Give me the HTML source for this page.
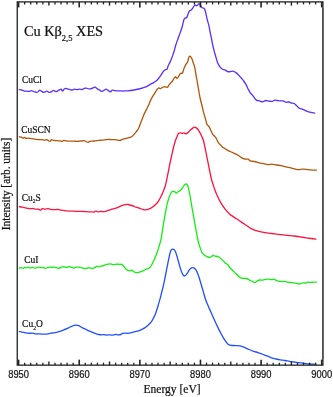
<!DOCTYPE html>
<html><head><meta charset="utf-8"><title>Cu Kβ XES</title>
<style>html,body{margin:0;padding:0;background:#fff}svg{display:block}</style>
</head><body>
<svg width="333" height="397" viewBox="0 0 333 397">
<rect width="333" height="397" fill="#fff"/>
<path d="M19.30 89.60C19.65 89.65 20.63 89.68 21.40 89.90C22.17 90.12 23.07 90.68 23.90 90.90C24.73 91.12 25.57 91.12 26.40 91.20C27.23 91.28 28.07 91.48 28.90 91.40C29.73 91.32 30.55 90.67 31.40 90.70C32.25 90.73 33.15 91.32 34.00 91.60C34.85 91.88 35.80 92.38 36.50 92.40C37.20 92.42 37.65 92.08 38.20 91.70C38.75 91.32 39.25 90.18 39.80 90.10C40.35 90.02 40.80 90.82 41.50 91.20C42.20 91.58 43.15 92.40 44.00 92.40C44.85 92.40 45.75 91.20 46.60 91.20C47.45 91.20 48.27 92.33 49.10 92.40C49.93 92.47 50.85 91.93 51.60 91.60C52.35 91.27 52.90 90.38 53.60 90.40C54.30 90.42 55.07 91.65 55.80 91.70C56.53 91.75 57.30 91.05 58.00 90.70C58.70 90.35 59.43 89.85 60.00 89.60C60.57 89.35 60.98 88.93 61.40 89.20C61.82 89.47 62.03 91.22 62.50 91.20C62.97 91.18 63.63 89.57 64.20 89.10C64.77 88.63 65.20 88.38 65.90 88.40C66.60 88.42 67.57 88.95 68.40 89.20C69.23 89.45 70.22 89.78 70.90 89.90C71.58 90.02 71.90 90.02 72.50 89.90C73.10 89.78 73.75 89.23 74.50 89.20C75.25 89.17 76.15 89.72 77.00 89.70C77.85 89.68 78.75 89.12 79.60 89.10C80.45 89.08 81.35 89.72 82.10 89.60C82.85 89.48 83.40 88.65 84.10 88.40C84.80 88.15 85.52 88.02 86.30 88.10C87.08 88.18 87.97 88.80 88.80 88.90C89.63 89.00 90.52 88.92 91.30 88.70C92.08 88.48 92.85 87.85 93.50 87.60C94.15 87.35 94.58 87.02 95.20 87.20C95.82 87.38 96.45 88.22 97.20 88.70C97.95 89.18 98.92 89.65 99.70 90.10C100.48 90.55 101.20 91.35 101.90 91.40C102.60 91.45 103.20 90.77 103.90 90.40C104.60 90.03 105.40 89.20 106.10 89.20C106.80 89.20 107.40 89.97 108.10 90.40C108.80 90.83 109.60 91.85 110.30 91.80C111.00 91.75 111.53 90.30 112.30 90.10C113.07 89.90 114.05 90.47 114.90 90.60C115.75 90.73 116.57 90.87 117.40 90.90C118.23 90.93 119.07 90.77 119.90 90.80C120.73 90.83 121.57 91.10 122.40 91.10C123.23 91.10 123.97 90.83 124.90 90.80C125.83 90.77 126.48 91.03 128.00 90.90C129.52 90.77 132.00 90.36 134.00 90.00C136.00 89.64 138.17 89.22 140.00 88.75C141.83 88.28 143.33 87.89 145.00 87.20C146.67 86.51 148.72 85.27 150.00 84.60C151.28 83.93 151.80 83.70 152.70 83.20C153.60 82.70 154.50 82.30 155.40 81.60C156.30 80.90 157.20 80.03 158.10 79.00C159.00 77.97 159.98 76.60 160.80 75.40C161.62 74.20 162.33 72.70 163.00 71.80C163.67 70.90 164.12 70.47 164.80 70.00C165.48 69.53 166.57 69.63 167.10 69.00C167.63 68.37 167.55 67.27 168.00 66.20C168.45 65.13 169.20 63.88 169.80 62.60C170.40 61.32 171.05 59.87 171.60 58.50C172.15 57.13 172.65 55.73 173.10 54.40C173.55 53.07 173.85 52.07 174.30 50.50C174.75 48.93 175.18 46.97 175.80 45.00C176.42 43.03 177.25 40.80 178.00 38.70C178.75 36.60 179.62 34.35 180.30 32.40C180.98 30.45 181.50 29.10 182.10 27.00C182.70 24.90 183.38 21.30 183.90 19.80C184.42 18.30 184.75 18.35 185.20 18.00C185.65 17.65 186.12 18.35 186.60 17.70C187.08 17.05 187.65 15.18 188.10 14.10C188.55 13.02 188.80 11.90 189.30 11.20C189.80 10.50 190.58 10.33 191.10 9.90C191.62 9.47 191.95 9.20 192.40 8.60C192.85 8.00 193.32 6.90 193.80 6.30C194.28 5.70 194.85 5.07 195.30 5.00C195.75 4.93 196.08 5.90 196.50 5.90C196.92 5.90 197.35 5.38 197.80 5.00C198.25 4.62 198.75 3.53 199.20 3.60C199.65 3.67 200.05 4.73 200.50 5.40C200.95 6.07 201.45 7.15 201.90 7.60C202.35 8.05 202.75 7.87 203.20 8.10C203.65 8.33 204.15 8.10 204.60 9.00C205.05 9.90 205.45 11.70 205.90 13.50C206.35 15.30 206.82 17.85 207.30 19.80C207.78 21.75 208.35 23.25 208.80 25.20C209.25 27.15 209.55 29.25 210.00 31.50C210.45 33.75 211.05 36.45 211.50 38.70C211.95 40.95 212.28 43.05 212.70 45.00C213.12 46.95 213.48 48.45 214.00 50.40C214.52 52.35 215.20 54.65 215.80 56.70C216.40 58.75 216.93 61.05 217.60 62.70C218.27 64.35 219.05 65.55 219.80 66.60C220.55 67.65 221.27 68.45 222.10 69.00C222.93 69.55 223.90 69.48 224.80 69.90C225.70 70.32 226.60 71.20 227.50 71.50C228.40 71.80 229.30 71.77 230.20 71.70C231.10 71.63 232.00 70.98 232.90 71.10C233.80 71.22 234.70 71.80 235.60 72.40C236.50 73.00 237.40 73.80 238.30 74.70C239.20 75.60 240.10 76.75 241.00 77.80C241.90 78.85 242.85 79.87 243.70 81.00C244.55 82.13 245.35 83.25 246.10 84.60C246.85 85.95 247.52 87.77 248.20 89.10C248.88 90.43 249.55 91.65 250.20 92.60C250.85 93.55 251.43 93.97 252.10 94.80C252.77 95.63 253.50 96.72 254.20 97.60C254.90 98.48 255.42 99.55 256.30 100.10C257.18 100.65 258.45 100.62 259.50 100.90C260.55 101.18 261.55 101.87 262.60 101.80C263.65 101.73 264.75 100.62 265.80 100.50C266.85 100.38 267.85 100.95 268.90 101.10C269.95 101.25 271.12 101.57 272.10 101.40C273.08 101.23 273.93 100.25 274.80 100.10C275.67 99.95 276.35 100.37 277.30 100.50C278.25 100.63 279.52 100.83 280.50 100.90C281.48 100.97 282.33 100.68 283.20 100.90C284.07 101.12 284.75 102.02 285.70 102.20C286.65 102.38 288.02 101.87 288.90 102.00C289.78 102.13 290.13 102.75 291.00 103.00C291.87 103.25 293.15 103.03 294.10 103.50C295.05 103.97 295.82 105.00 296.70 105.80C297.58 106.60 298.42 107.72 299.40 108.30C300.38 108.88 301.65 108.95 302.60 109.30C303.55 109.65 304.23 110.00 305.10 110.40C305.97 110.80 306.82 111.38 307.80 111.70C308.78 112.02 309.85 112.07 311.00 112.30C312.15 112.53 314.08 112.97 314.70 113.10" fill="none" stroke="#5c30fa" stroke-width="1.32" stroke-linejoin="round" stroke-linecap="round"/>
<path d="M19.30 136.70C19.65 136.78 20.78 136.97 21.40 137.20C22.02 137.43 22.50 138.07 23.00 138.10C23.50 138.13 23.88 137.35 24.40 137.40C24.92 137.45 25.48 138.28 26.10 138.40C26.72 138.52 27.22 138.05 28.10 138.10C28.98 138.15 30.28 138.53 31.40 138.70C32.52 138.87 33.67 138.95 34.80 139.10C35.93 139.25 37.08 139.50 38.20 139.60C39.32 139.70 40.38 139.62 41.50 139.70C42.62 139.78 44.00 140.10 44.90 140.10C45.80 140.10 46.28 139.58 46.90 139.70C47.52 139.82 48.03 140.57 48.60 140.80C49.17 141.03 49.80 141.28 50.30 141.10C50.80 140.92 51.05 139.82 51.60 139.70C52.15 139.58 52.75 140.25 53.60 140.40C54.45 140.55 55.63 140.52 56.70 140.60C57.77 140.68 59.12 140.77 60.00 140.90C60.88 141.03 61.38 141.48 62.00 141.40C62.62 141.32 63.05 140.50 63.70 140.40C64.35 140.30 65.12 140.68 65.90 140.80C66.68 140.92 67.42 141.05 68.40 141.10C69.38 141.15 70.78 141.10 71.80 141.10C72.82 141.10 73.63 141.05 74.50 141.10C75.37 141.15 76.15 141.40 77.00 141.40C77.85 141.40 78.75 141.18 79.60 141.10C80.45 141.02 81.35 140.98 82.10 140.90C82.85 140.82 83.48 140.52 84.10 140.60C84.72 140.68 85.15 141.12 85.80 141.40C86.45 141.68 87.37 142.30 88.00 142.30C88.63 142.30 88.90 141.60 89.60 141.40C90.30 141.20 91.22 141.20 92.20 141.10C93.18 141.00 94.38 140.92 95.50 140.80C96.62 140.68 97.77 140.52 98.90 140.40C100.03 140.28 101.18 140.22 102.30 140.10C103.42 139.98 104.63 139.82 105.60 139.70C106.57 139.58 107.12 139.42 108.10 139.40C109.08 139.38 110.37 139.55 111.50 139.60C112.63 139.65 113.92 139.62 114.90 139.70C115.88 139.78 116.57 139.98 117.40 140.10C118.23 140.22 119.07 140.52 119.90 140.40C120.73 140.28 121.57 139.68 122.40 139.40C123.23 139.12 123.97 138.97 124.90 138.70C125.83 138.43 127.17 138.02 128.00 137.80C128.83 137.58 129.25 137.62 129.90 137.40C130.55 137.18 131.17 137.05 131.90 136.50C132.63 135.95 133.50 135.00 134.30 134.10C135.10 133.20 136.02 132.00 136.70 131.10C137.38 130.20 137.92 129.60 138.40 128.70C138.88 127.80 139.20 126.72 139.60 125.70C140.00 124.68 140.40 123.62 140.80 122.60C141.20 121.58 141.60 120.60 142.00 119.60C142.40 118.60 142.80 117.60 143.20 116.60C143.60 115.60 143.95 114.60 144.40 113.60C144.85 112.60 145.38 111.62 145.90 110.60C146.42 109.58 147.00 108.52 147.50 107.50C148.00 106.48 148.47 105.50 148.90 104.50C149.33 103.50 149.73 102.40 150.10 101.50C150.47 100.60 150.67 99.95 151.10 99.10C151.53 98.25 152.12 97.35 152.70 96.40C153.28 95.45 153.98 94.38 154.60 93.40C155.22 92.42 155.88 91.30 156.40 90.50C156.92 89.70 157.27 89.05 157.70 88.60C158.13 88.15 158.53 87.80 159.00 87.80C159.47 87.80 159.95 88.65 160.50 88.60C161.05 88.55 161.65 87.83 162.30 87.50C162.95 87.17 163.75 86.67 164.40 86.60C165.05 86.53 165.68 86.98 166.20 87.10C166.72 87.22 167.05 87.63 167.50 87.30C167.95 86.97 168.37 85.82 168.90 85.10C169.43 84.38 170.10 83.68 170.70 83.00C171.30 82.32 171.90 81.85 172.50 81.00C173.10 80.15 173.75 78.57 174.30 77.90C174.85 77.23 175.35 76.90 175.80 77.00C176.25 77.10 176.55 78.55 177.00 78.50C177.45 78.45 178.05 77.40 178.50 76.70C178.95 76.00 179.28 74.90 179.70 74.30C180.12 73.70 180.55 73.30 181.00 73.10C181.45 72.90 181.87 73.95 182.40 73.10C182.93 72.25 183.60 69.50 184.20 68.00C184.80 66.50 185.45 65.05 186.00 64.10C186.55 63.15 187.10 63.15 187.50 62.30C187.90 61.45 188.10 60.00 188.40 59.00C188.70 58.00 188.95 56.72 189.30 56.30C189.65 55.88 190.08 56.12 190.50 56.50C190.92 56.88 191.35 57.58 191.80 58.60C192.25 59.62 192.72 61.18 193.20 62.60C193.68 64.02 194.25 65.15 194.70 67.10C195.15 69.05 195.48 71.90 195.90 74.30C196.32 76.70 196.75 78.95 197.20 81.50C197.65 84.05 198.12 86.85 198.60 89.60C199.08 92.35 199.50 95.18 200.10 98.00C200.70 100.82 201.57 103.90 202.20 106.50C202.83 109.10 203.28 111.28 203.90 113.60C204.52 115.92 205.40 118.63 205.90 120.40C206.40 122.17 206.33 123.07 206.90 124.20C207.47 125.33 208.60 126.07 209.30 127.20C210.00 128.33 210.53 129.80 211.10 131.00C211.67 132.20 212.13 133.57 212.70 134.40C213.27 135.23 213.88 135.32 214.50 136.00C215.12 136.68 215.83 137.50 216.40 138.50C216.97 139.50 217.27 140.98 217.90 142.00C218.53 143.02 219.32 143.67 220.20 144.60C221.08 145.53 221.93 146.63 223.20 147.60C224.47 148.57 226.23 149.57 227.80 150.40C229.37 151.23 231.05 151.90 232.60 152.60C234.15 153.30 235.57 153.73 237.10 154.60C238.63 155.47 240.48 157.07 241.80 157.80C243.12 158.53 243.95 158.77 245.00 159.00C246.05 159.23 247.22 158.88 248.10 159.20C248.98 159.52 249.25 160.52 250.30 160.90C251.35 161.28 252.92 161.18 254.40 161.50C255.88 161.82 257.62 162.43 259.20 162.80C260.78 163.17 262.33 163.38 263.90 163.70C265.47 164.02 267.28 164.63 268.60 164.70C269.92 164.77 270.48 164.05 271.80 164.10C273.12 164.15 274.93 164.75 276.50 165.00C278.07 165.25 279.62 165.28 281.20 165.60C282.78 165.92 284.42 166.53 286.00 166.90C287.58 167.27 289.13 167.43 290.70 167.80C292.27 168.17 294.08 168.78 295.40 169.10C296.72 169.42 297.28 169.70 298.60 169.70C299.92 169.70 301.73 169.10 303.30 169.10C304.87 169.10 306.42 169.53 308.00 169.70C309.58 169.87 311.38 170.03 312.80 170.10C314.22 170.17 315.88 170.10 316.50 170.10" fill="none" stroke="#b2560c" stroke-width="1.32" stroke-linejoin="round" stroke-linecap="round"/>
<path d="M19.30 206.70C19.78 206.78 21.15 207.00 22.20 207.20C23.25 207.40 24.62 207.70 25.60 207.90C26.58 208.10 27.27 208.27 28.10 208.40C28.93 208.53 29.77 208.70 30.60 208.70C31.43 208.70 32.27 208.33 33.10 208.40C33.93 208.47 34.75 208.97 35.60 209.10C36.45 209.23 37.35 209.03 38.20 209.20C39.05 209.37 40.00 210.18 40.70 210.10C41.40 210.02 41.70 208.87 42.40 208.70C43.10 208.53 43.92 209.10 44.90 209.10C45.88 209.10 47.32 208.65 48.30 208.70C49.28 208.75 49.97 209.23 50.80 209.40C51.63 209.57 52.47 209.67 53.30 209.70C54.13 209.73 54.97 209.65 55.80 209.60C56.63 209.55 57.45 209.32 58.30 209.40C59.15 209.48 60.05 209.93 60.90 210.10C61.75 210.27 62.43 210.27 63.40 210.40C64.37 210.53 65.58 210.78 66.70 210.90C67.82 211.02 69.22 211.07 70.10 211.10C70.98 211.13 71.12 211.07 72.00 211.10C72.88 211.13 74.28 211.25 75.40 211.30C76.52 211.35 77.58 211.38 78.70 211.40C79.82 211.42 80.98 211.37 82.10 211.40C83.22 211.43 84.28 211.53 85.40 211.60C86.52 211.67 87.67 211.77 88.80 211.80C89.93 211.83 91.37 211.75 92.20 211.80C93.03 211.85 93.25 212.22 93.80 212.10C94.35 211.98 94.78 211.15 95.50 211.10C96.22 211.05 97.25 211.75 98.10 211.80C98.95 211.85 99.77 211.43 100.60 211.40C101.43 211.37 102.27 211.62 103.10 211.60C103.93 211.58 104.77 211.50 105.60 211.30C106.43 211.10 107.25 210.68 108.10 210.40C108.95 210.12 109.72 209.88 110.70 209.60C111.68 209.32 112.88 209.03 114.00 208.70C115.12 208.37 116.42 207.98 117.40 207.60C118.38 207.22 119.07 206.77 119.90 206.40C120.73 206.03 121.57 205.68 122.40 205.40C123.23 205.12 123.97 204.85 124.90 204.70C125.83 204.55 126.73 204.32 128.00 204.50C129.27 204.68 131.17 205.30 132.50 205.75C133.83 206.20 134.75 206.76 136.00 207.20C137.25 207.64 138.83 208.02 140.00 208.40C141.17 208.78 142.17 209.25 143.00 209.50C143.83 209.75 144.07 209.95 145.00 209.90C145.93 209.85 147.38 209.63 148.60 209.20C149.82 208.77 151.08 208.12 152.30 207.30C153.52 206.48 154.90 205.30 155.90 204.30C156.90 203.30 157.52 202.47 158.30 201.30C159.08 200.13 159.80 198.90 160.60 197.30C161.40 195.70 162.35 193.53 163.11 191.70C163.88 189.87 164.59 188.25 165.19 186.30C165.78 184.35 166.18 182.33 166.68 180.00C167.18 177.67 167.65 175.10 168.20 172.30C168.75 169.50 169.40 166.07 170.00 163.20C170.60 160.33 171.20 157.80 171.80 155.10C172.40 152.40 173.00 149.40 173.60 147.00C174.20 144.60 174.80 142.50 175.40 140.70C176.00 138.90 176.67 137.43 177.20 136.20C177.73 134.97 178.07 133.85 178.60 133.30C179.13 132.75 179.80 132.90 180.40 132.90C181.00 132.90 181.60 133.30 182.20 133.30C182.80 133.30 183.40 132.82 184.00 132.90C184.60 132.98 185.20 133.80 185.80 133.80C186.40 133.80 187.00 133.35 187.60 132.90C188.20 132.45 188.80 131.70 189.40 131.10C190.00 130.50 190.60 129.83 191.20 129.30C191.80 128.77 192.45 128.27 193.00 127.90C193.55 127.53 193.95 127.10 194.50 127.10C195.05 127.10 195.70 127.47 196.30 127.90C196.90 128.33 197.50 128.92 198.10 129.70C198.70 130.48 199.30 131.52 199.90 132.60C200.50 133.68 201.10 134.85 201.70 136.20C202.30 137.55 202.97 138.90 203.50 140.70C204.03 142.50 204.40 144.60 204.90 147.00C205.40 149.40 205.98 152.55 206.50 155.10C207.02 157.65 207.48 159.73 208.00 162.30C208.52 164.87 209.03 167.72 209.60 170.50C210.17 173.28 210.82 176.67 211.40 179.00C211.98 181.33 212.48 182.58 213.10 184.50C213.72 186.42 214.42 188.67 215.10 190.50C215.78 192.33 216.33 193.60 217.20 195.50C218.07 197.40 218.98 199.62 220.30 201.90C221.62 204.18 223.57 207.20 225.10 209.20C226.63 211.20 228.01 212.58 229.48 213.90C230.95 215.22 232.36 216.05 233.90 217.10C235.44 218.15 237.12 219.15 238.70 220.20C240.28 221.25 241.83 222.35 243.40 223.40C244.97 224.45 246.78 225.62 248.10 226.50C249.42 227.38 249.98 228.02 251.30 228.70C252.62 229.38 254.17 230.02 256.00 230.60C257.83 231.18 260.20 231.77 262.30 232.20C264.40 232.63 266.50 232.93 268.60 233.20C270.70 233.47 272.80 233.55 274.90 233.80C277.00 234.05 279.10 234.43 281.20 234.70C283.30 234.97 285.40 235.18 287.50 235.40C289.60 235.62 291.70 235.75 293.80 236.00C295.90 236.25 297.98 236.58 300.10 236.90C302.22 237.22 304.65 237.63 306.50 237.90C308.35 238.17 309.63 238.28 311.20 238.50C312.77 238.72 315.12 239.08 315.90 239.20" fill="none" stroke="#ff1440" stroke-width="1.32" stroke-linejoin="round" stroke-linecap="round"/>
<path d="M19.30 268.10C19.65 268.03 20.78 267.65 21.40 267.70C22.02 267.75 22.45 268.45 23.00 268.40C23.55 268.35 24.08 267.48 24.70 267.40C25.32 267.32 26.08 267.93 26.70 267.90C27.32 267.87 27.75 267.20 28.40 267.20C29.05 267.20 29.87 267.87 30.60 267.90C31.33 267.93 32.10 267.37 32.80 267.40C33.50 267.43 34.13 268.07 34.80 268.10C35.47 268.13 36.10 267.75 36.80 267.60C37.50 267.45 38.27 267.18 39.00 267.20C39.73 267.22 40.50 267.67 41.20 267.70C41.90 267.73 42.53 267.28 43.20 267.40C43.87 267.52 44.50 268.35 45.20 268.40C45.90 268.45 46.67 267.92 47.40 267.70C48.13 267.48 48.90 267.15 49.60 267.10C50.30 267.05 50.85 267.40 51.60 267.40C52.35 267.40 53.25 267.05 54.10 267.10C54.95 267.15 55.93 267.48 56.70 267.70C57.47 267.92 58.00 268.45 58.70 268.40C59.40 268.35 60.18 267.68 60.90 267.40C61.62 267.12 62.30 266.75 63.00 266.70C63.70 266.65 64.42 266.98 65.10 267.10C65.78 267.22 66.48 267.52 67.10 267.40C67.72 267.28 68.17 266.43 68.80 266.40C69.43 266.37 70.28 266.98 70.90 267.20C71.52 267.42 71.98 267.55 72.50 267.70C73.02 267.85 73.38 268.20 74.00 268.10C74.62 268.00 75.42 267.25 76.20 267.10C76.98 266.95 77.87 267.12 78.70 267.20C79.53 267.28 80.35 267.40 81.20 267.60C82.05 267.80 82.95 268.23 83.80 268.40C84.65 268.57 85.52 268.73 86.30 268.60C87.08 268.47 87.80 267.68 88.50 267.60C89.20 267.52 89.75 267.97 90.50 268.10C91.25 268.23 92.22 268.52 93.00 268.40C93.78 268.28 94.50 267.78 95.20 267.40C95.90 267.02 96.58 266.18 97.20 266.10C97.82 266.02 98.28 266.90 98.90 266.90C99.52 266.90 100.20 266.27 100.90 266.10C101.60 265.93 102.32 266.13 103.10 265.90C103.88 265.67 104.77 265.00 105.60 264.70C106.43 264.40 107.25 264.23 108.10 264.10C108.95 263.97 109.85 263.80 110.70 263.90C111.55 264.00 112.42 264.62 113.20 264.70C113.98 264.78 114.70 264.50 115.40 264.40C116.10 264.30 116.73 264.10 117.40 264.10C118.07 264.10 118.70 264.37 119.40 264.40C120.10 264.43 121.00 264.12 121.60 264.30C122.20 264.48 122.48 264.95 123.00 265.50C123.52 266.05 124.12 266.92 124.70 267.60C125.28 268.28 125.93 269.10 126.50 269.60C127.07 270.10 127.50 270.45 128.10 270.60C128.70 270.75 129.42 270.52 130.10 270.50C130.78 270.48 131.63 270.35 132.20 270.50C132.77 270.65 133.02 271.10 133.50 271.40C133.98 271.70 134.53 272.08 135.10 272.30C135.67 272.52 136.27 272.70 136.90 272.70C137.53 272.70 138.23 272.48 138.90 272.30C139.57 272.12 140.22 271.83 140.90 271.60C141.58 271.37 142.38 271.17 143.00 270.90C143.62 270.63 144.03 270.28 144.60 270.00C145.17 269.72 145.82 269.43 146.40 269.20C146.98 268.97 147.55 268.87 148.10 268.60C148.65 268.33 149.15 268.12 149.70 267.60C150.25 267.08 150.90 266.30 151.40 265.50C151.90 264.70 152.25 263.70 152.70 262.80C153.15 261.90 153.65 261.10 154.10 260.10C154.55 259.10 154.95 257.92 155.40 256.80C155.85 255.68 156.33 254.63 156.80 253.40C157.27 252.17 157.73 250.88 158.20 249.40C158.67 247.92 159.15 246.07 159.60 244.50C160.05 242.93 160.47 242.03 160.90 240.00C161.33 237.97 161.75 235.10 162.20 232.30C162.65 229.50 163.08 226.37 163.60 223.20C164.12 220.03 164.72 216.45 165.30 213.30C165.88 210.15 166.50 206.85 167.10 204.30C167.70 201.75 168.30 199.80 168.90 198.00C169.50 196.20 170.10 194.60 170.70 193.50C171.30 192.40 171.87 191.70 172.50 191.40C173.13 191.10 173.87 191.43 174.50 191.70C175.13 191.97 175.70 193.00 176.30 193.00C176.90 193.00 177.45 192.12 178.10 191.70C178.75 191.28 179.55 191.02 180.20 190.50C180.85 189.98 181.45 189.30 182.00 188.60C182.55 187.90 183.02 186.98 183.50 186.30C183.98 185.62 184.45 184.88 184.90 184.50C185.35 184.12 185.78 183.92 186.20 184.00C186.62 184.08 187.02 184.32 187.40 185.00C187.78 185.68 188.13 186.68 188.50 188.10C188.87 189.52 189.23 191.55 189.60 193.50C189.97 195.45 190.32 197.55 190.70 199.80C191.08 202.05 191.48 204.60 191.90 207.00C192.32 209.40 192.75 211.65 193.20 214.20C193.65 216.75 194.12 219.58 194.60 222.30C195.08 225.02 195.55 227.55 196.10 230.50C196.65 233.45 197.40 237.67 197.90 240.00C198.40 242.33 198.68 243.08 199.10 244.50C199.52 245.92 199.93 247.18 200.40 248.50C200.87 249.82 201.22 251.27 201.90 252.40C202.58 253.53 203.62 254.58 204.50 255.30C205.38 256.02 206.38 256.33 207.20 256.70C208.02 257.07 208.73 257.50 209.40 257.50C210.07 257.50 210.60 257.03 211.20 256.70C211.80 256.37 212.32 255.60 213.00 255.50C213.68 255.40 214.47 255.90 215.30 256.10C216.13 256.30 217.10 256.30 218.00 256.70C218.90 257.10 219.80 257.80 220.70 258.50C221.60 259.20 222.65 260.15 223.40 260.90C224.15 261.65 224.45 262.35 225.20 263.00C225.95 263.65 227.15 264.05 227.90 264.80C228.65 265.55 228.95 266.60 229.70 267.50C230.45 268.40 231.50 269.30 232.40 270.20C233.30 271.10 234.20 272.00 235.10 272.90C236.00 273.80 236.90 274.78 237.80 275.60C238.70 276.42 239.60 277.35 240.50 277.80C241.40 278.25 242.20 278.18 243.20 278.30C244.20 278.42 245.60 278.28 246.50 278.50C247.40 278.72 247.78 279.18 248.60 279.60C249.42 280.02 250.48 280.55 251.40 281.00C252.32 281.45 253.40 282.08 254.10 282.30C254.80 282.52 255.05 282.55 255.60 282.30C256.15 282.05 256.68 281.18 257.40 280.80C258.12 280.42 259.00 280.12 259.90 280.00C260.80 279.88 261.83 280.22 262.80 280.10C263.77 279.98 264.72 279.47 265.70 279.30C266.68 279.13 267.72 279.03 268.70 279.10C269.68 279.17 270.63 279.67 271.60 279.70C272.57 279.73 273.68 279.13 274.50 279.30C275.32 279.47 275.68 280.37 276.50 280.70C277.32 281.03 278.43 281.13 279.40 281.30C280.37 281.47 281.42 281.70 282.30 281.70C283.18 281.70 283.88 281.23 284.70 281.30C285.52 281.37 286.30 281.92 287.20 282.10C288.10 282.28 289.12 282.28 290.10 282.40C291.08 282.52 292.12 282.67 293.10 282.80C294.08 282.93 295.03 283.00 296.00 283.20C296.97 283.40 298.08 283.93 298.90 284.00C299.72 284.07 300.25 283.80 300.90 283.60C301.55 283.40 302.05 282.90 302.80 282.80C303.55 282.70 304.58 283.10 305.40 283.00C306.22 282.90 306.83 282.30 307.70 282.20C308.57 282.10 309.62 282.42 310.60 282.40C311.58 282.38 312.62 282.15 313.60 282.10C314.58 282.05 316.02 282.10 316.50 282.10" fill="none" stroke="#14f014" stroke-width="1.32" stroke-linejoin="round" stroke-linecap="round"/>
<path d="M19.30 331.60C19.78 331.68 21.15 331.88 22.20 332.10C23.25 332.32 24.62 332.73 25.60 332.90C26.58 333.07 27.27 333.02 28.10 333.10C28.93 333.18 29.90 333.40 30.60 333.40C31.30 333.40 31.60 333.03 32.30 333.10C33.00 333.17 33.82 333.68 34.80 333.80C35.78 333.92 37.08 333.75 38.20 333.80C39.32 333.85 40.38 334.05 41.50 334.10C42.62 334.15 43.77 334.15 44.90 334.10C46.03 334.05 47.32 333.97 48.30 333.80C49.28 333.63 49.97 333.25 50.80 333.10C51.63 332.95 52.32 333.02 53.30 332.90C54.28 332.78 55.58 332.65 56.70 332.40C57.82 332.15 58.88 331.78 60.00 331.40C61.12 331.02 62.28 330.55 63.40 330.10C64.52 329.65 65.58 329.22 66.70 328.70C67.82 328.18 69.13 327.45 70.10 327.00C71.07 326.55 71.82 326.27 72.50 326.00C73.18 325.73 73.58 325.53 74.20 325.40C74.82 325.27 75.45 325.15 76.20 325.20C76.95 325.25 77.87 325.38 78.70 325.70C79.53 326.02 80.35 326.65 81.20 327.10C82.05 327.55 82.95 327.98 83.80 328.40C84.65 328.82 85.47 329.18 86.30 329.60C87.13 330.02 87.97 330.53 88.80 330.90C89.63 331.27 90.47 331.48 91.30 331.80C92.13 332.12 92.95 332.47 93.80 332.80C94.65 333.13 95.55 333.52 96.40 333.80C97.25 334.08 98.07 334.33 98.90 334.50C99.73 334.67 100.57 334.78 101.40 334.80C102.23 334.82 103.05 334.55 103.90 334.60C104.75 334.65 105.65 335.07 106.50 335.10C107.35 335.13 108.17 334.80 109.00 334.80C109.83 334.80 110.67 335.10 111.50 335.10C112.33 335.10 113.25 334.93 114.00 334.80C114.75 334.67 115.30 334.30 116.00 334.30C116.70 334.30 117.42 334.77 118.20 334.80C118.98 334.83 120.00 334.73 120.70 334.50C121.40 334.27 121.70 333.63 122.40 333.40C123.10 333.17 123.97 333.12 124.90 333.10C125.83 333.08 126.73 333.43 128.00 333.30C129.27 333.17 131.33 332.58 132.50 332.30C133.67 332.02 133.78 331.93 135.00 331.60C136.22 331.27 138.18 330.92 139.80 330.30C141.42 329.68 143.28 328.80 144.70 327.90C146.12 327.00 147.20 325.90 148.30 324.90C149.40 323.90 150.40 323.12 151.30 321.90C152.20 320.68 152.98 319.02 153.70 317.60C154.42 316.18 154.98 315.00 155.60 313.40C156.22 311.80 156.87 309.72 157.40 308.00C157.93 306.28 158.33 304.72 158.80 303.10C159.27 301.48 159.77 299.90 160.20 298.30C160.63 296.70 161.02 295.02 161.40 293.50C161.78 291.98 162.18 290.45 162.50 289.20C162.82 287.95 163.03 287.15 163.30 286.00C163.57 284.85 163.77 283.92 164.10 282.30C164.43 280.68 164.90 278.32 165.30 276.30C165.70 274.28 166.10 272.22 166.50 270.20C166.90 268.18 167.30 266.22 167.70 264.20C168.10 262.18 168.50 260.02 168.90 258.10C169.30 256.18 169.70 254.07 170.10 252.70C170.50 251.33 170.85 250.50 171.30 249.90C171.75 249.30 172.28 249.10 172.80 249.10C173.32 249.10 173.93 249.40 174.40 249.90C174.87 250.40 175.20 251.13 175.60 252.10C176.00 253.07 176.40 254.38 176.80 255.70C177.20 257.02 177.60 258.58 178.00 260.00C178.40 261.42 178.80 262.80 179.20 264.20C179.60 265.60 180.00 267.10 180.40 268.40C180.80 269.70 181.20 270.98 181.60 272.00C182.00 273.02 182.33 273.83 182.80 274.50C183.27 275.17 183.88 275.90 184.40 276.00C184.92 276.10 185.35 275.67 185.90 275.10C186.45 274.53 187.10 273.52 187.70 272.60C188.30 271.68 188.86 270.40 189.50 269.60C190.14 268.80 190.82 268.08 191.53 267.80C192.24 267.52 193.06 267.58 193.76 267.90C194.46 268.22 195.10 268.80 195.74 269.70C196.38 270.60 196.99 271.80 197.61 273.30C198.24 274.80 198.86 276.75 199.48 278.70C200.11 280.65 200.73 282.88 201.36 285.00C201.98 287.12 202.52 288.98 203.23 291.40C203.94 293.82 204.74 296.98 205.60 299.50C206.46 302.02 207.48 304.33 208.40 306.50C209.32 308.67 210.23 310.55 211.10 312.50C211.97 314.45 212.77 316.32 213.60 318.20C214.43 320.07 215.27 321.97 216.10 323.75C216.93 325.53 217.79 327.27 218.60 328.90C219.41 330.52 220.26 332.17 220.97 333.50C221.67 334.83 222.07 335.62 222.83 336.90C223.60 338.18 224.67 339.97 225.55 341.20C226.43 342.43 227.19 343.58 228.10 344.27C229.01 344.95 229.77 345.08 231.00 345.30C232.23 345.52 234.00 345.50 235.50 345.60C237.00 345.70 238.50 345.60 240.00 345.90C241.50 346.20 243.00 346.80 244.50 347.40C246.00 348.00 247.50 348.85 249.00 349.50C250.50 350.15 252.00 350.78 253.50 351.30C255.00 351.82 256.50 352.11 258.00 352.60C259.50 353.09 261.00 353.70 262.50 354.25C264.00 354.80 265.50 355.31 267.00 355.90C268.50 356.49 270.00 357.28 271.50 357.80C273.00 358.32 274.50 358.65 276.00 359.00C277.50 359.35 279.00 359.65 280.50 359.90C282.00 360.15 283.50 360.25 285.00 360.50C286.50 360.75 288.00 361.15 289.50 361.40C291.00 361.65 292.50 361.80 294.00 362.00C295.50 362.20 297.00 362.40 298.50 362.60C300.00 362.80 301.50 363.00 303.00 363.20C304.50 363.40 306.00 363.65 307.50 363.80C309.00 363.95 310.63 364.00 312.00 364.10C313.37 364.20 315.08 364.35 315.70 364.40" fill="none" stroke="#2050ff" stroke-width="1.32" stroke-linejoin="round" stroke-linecap="round"/>
<g stroke="#222"><line x1="18.60" y1="365.15" x2="18.60" y2="359.65" stroke-width="1.6"/><line x1="18.60" y1="1.90" x2="18.60" y2="7.40" stroke-width="1.6"/><line x1="24.66" y1="365.15" x2="24.66" y2="362.65" stroke-width="1.3"/><line x1="24.66" y1="1.90" x2="24.66" y2="4.40" stroke-width="1.3"/><line x1="30.72" y1="365.15" x2="30.72" y2="362.65" stroke-width="1.3"/><line x1="30.72" y1="1.90" x2="30.72" y2="4.40" stroke-width="1.3"/><line x1="36.79" y1="365.15" x2="36.79" y2="362.65" stroke-width="1.3"/><line x1="36.79" y1="1.90" x2="36.79" y2="4.40" stroke-width="1.3"/><line x1="42.85" y1="365.15" x2="42.85" y2="362.65" stroke-width="1.3"/><line x1="42.85" y1="1.90" x2="42.85" y2="4.40" stroke-width="1.3"/><line x1="48.91" y1="365.15" x2="48.91" y2="361.45" stroke-width="1.4"/><line x1="48.91" y1="1.90" x2="48.91" y2="5.60" stroke-width="1.4"/><line x1="54.97" y1="365.15" x2="54.97" y2="362.65" stroke-width="1.3"/><line x1="54.97" y1="1.90" x2="54.97" y2="4.40" stroke-width="1.3"/><line x1="61.03" y1="365.15" x2="61.03" y2="362.65" stroke-width="1.3"/><line x1="61.03" y1="1.90" x2="61.03" y2="4.40" stroke-width="1.3"/><line x1="67.10" y1="365.15" x2="67.10" y2="362.65" stroke-width="1.3"/><line x1="67.10" y1="1.90" x2="67.10" y2="4.40" stroke-width="1.3"/><line x1="73.16" y1="365.15" x2="73.16" y2="362.65" stroke-width="1.3"/><line x1="73.16" y1="1.90" x2="73.16" y2="4.40" stroke-width="1.3"/><line x1="79.22" y1="365.15" x2="79.22" y2="359.65" stroke-width="1.6"/><line x1="79.22" y1="1.90" x2="79.22" y2="7.40" stroke-width="1.6"/><line x1="85.28" y1="365.15" x2="85.28" y2="362.65" stroke-width="1.3"/><line x1="85.28" y1="1.90" x2="85.28" y2="4.40" stroke-width="1.3"/><line x1="91.34" y1="365.15" x2="91.34" y2="362.65" stroke-width="1.3"/><line x1="91.34" y1="1.90" x2="91.34" y2="4.40" stroke-width="1.3"/><line x1="97.41" y1="365.15" x2="97.41" y2="362.65" stroke-width="1.3"/><line x1="97.41" y1="1.90" x2="97.41" y2="4.40" stroke-width="1.3"/><line x1="103.47" y1="365.15" x2="103.47" y2="362.65" stroke-width="1.3"/><line x1="103.47" y1="1.90" x2="103.47" y2="4.40" stroke-width="1.3"/><line x1="109.53" y1="365.15" x2="109.53" y2="361.45" stroke-width="1.4"/><line x1="109.53" y1="1.90" x2="109.53" y2="5.60" stroke-width="1.4"/><line x1="115.59" y1="365.15" x2="115.59" y2="362.65" stroke-width="1.3"/><line x1="115.59" y1="1.90" x2="115.59" y2="4.40" stroke-width="1.3"/><line x1="121.65" y1="365.15" x2="121.65" y2="362.65" stroke-width="1.3"/><line x1="121.65" y1="1.90" x2="121.65" y2="4.40" stroke-width="1.3"/><line x1="127.72" y1="365.15" x2="127.72" y2="362.65" stroke-width="1.3"/><line x1="127.72" y1="1.90" x2="127.72" y2="4.40" stroke-width="1.3"/><line x1="133.78" y1="365.15" x2="133.78" y2="362.65" stroke-width="1.3"/><line x1="133.78" y1="1.90" x2="133.78" y2="4.40" stroke-width="1.3"/><line x1="139.84" y1="365.15" x2="139.84" y2="359.65" stroke-width="1.6"/><line x1="139.84" y1="1.90" x2="139.84" y2="7.40" stroke-width="1.6"/><line x1="145.90" y1="365.15" x2="145.90" y2="362.65" stroke-width="1.3"/><line x1="145.90" y1="1.90" x2="145.90" y2="4.40" stroke-width="1.3"/><line x1="151.96" y1="365.15" x2="151.96" y2="362.65" stroke-width="1.3"/><line x1="151.96" y1="1.90" x2="151.96" y2="4.40" stroke-width="1.3"/><line x1="158.03" y1="365.15" x2="158.03" y2="362.65" stroke-width="1.3"/><line x1="158.03" y1="1.90" x2="158.03" y2="4.40" stroke-width="1.3"/><line x1="164.09" y1="365.15" x2="164.09" y2="362.65" stroke-width="1.3"/><line x1="164.09" y1="1.90" x2="164.09" y2="4.40" stroke-width="1.3"/><line x1="170.15" y1="365.15" x2="170.15" y2="361.45" stroke-width="1.4"/><line x1="170.15" y1="1.90" x2="170.15" y2="5.60" stroke-width="1.4"/><line x1="176.21" y1="365.15" x2="176.21" y2="362.65" stroke-width="1.3"/><line x1="176.21" y1="1.90" x2="176.21" y2="4.40" stroke-width="1.3"/><line x1="182.27" y1="365.15" x2="182.27" y2="362.65" stroke-width="1.3"/><line x1="182.27" y1="1.90" x2="182.27" y2="4.40" stroke-width="1.3"/><line x1="188.34" y1="365.15" x2="188.34" y2="362.65" stroke-width="1.3"/><line x1="188.34" y1="1.90" x2="188.34" y2="4.40" stroke-width="1.3"/><line x1="194.40" y1="365.15" x2="194.40" y2="362.65" stroke-width="1.3"/><line x1="194.40" y1="1.90" x2="194.40" y2="4.40" stroke-width="1.3"/><line x1="200.46" y1="365.15" x2="200.46" y2="359.65" stroke-width="1.6"/><line x1="200.46" y1="1.90" x2="200.46" y2="7.40" stroke-width="1.6"/><line x1="206.52" y1="365.15" x2="206.52" y2="362.65" stroke-width="1.3"/><line x1="206.52" y1="1.90" x2="206.52" y2="4.40" stroke-width="1.3"/><line x1="212.58" y1="365.15" x2="212.58" y2="362.65" stroke-width="1.3"/><line x1="212.58" y1="1.90" x2="212.58" y2="4.40" stroke-width="1.3"/><line x1="218.65" y1="365.15" x2="218.65" y2="362.65" stroke-width="1.3"/><line x1="218.65" y1="1.90" x2="218.65" y2="4.40" stroke-width="1.3"/><line x1="224.71" y1="365.15" x2="224.71" y2="362.65" stroke-width="1.3"/><line x1="224.71" y1="1.90" x2="224.71" y2="4.40" stroke-width="1.3"/><line x1="230.77" y1="365.15" x2="230.77" y2="361.45" stroke-width="1.4"/><line x1="230.77" y1="1.90" x2="230.77" y2="5.60" stroke-width="1.4"/><line x1="236.83" y1="365.15" x2="236.83" y2="362.65" stroke-width="1.3"/><line x1="236.83" y1="1.90" x2="236.83" y2="4.40" stroke-width="1.3"/><line x1="242.89" y1="365.15" x2="242.89" y2="362.65" stroke-width="1.3"/><line x1="242.89" y1="1.90" x2="242.89" y2="4.40" stroke-width="1.3"/><line x1="248.96" y1="365.15" x2="248.96" y2="362.65" stroke-width="1.3"/><line x1="248.96" y1="1.90" x2="248.96" y2="4.40" stroke-width="1.3"/><line x1="255.02" y1="365.15" x2="255.02" y2="362.65" stroke-width="1.3"/><line x1="255.02" y1="1.90" x2="255.02" y2="4.40" stroke-width="1.3"/><line x1="261.08" y1="365.15" x2="261.08" y2="359.65" stroke-width="1.6"/><line x1="261.08" y1="1.90" x2="261.08" y2="7.40" stroke-width="1.6"/><line x1="267.14" y1="365.15" x2="267.14" y2="362.65" stroke-width="1.3"/><line x1="267.14" y1="1.90" x2="267.14" y2="4.40" stroke-width="1.3"/><line x1="273.20" y1="365.15" x2="273.20" y2="362.65" stroke-width="1.3"/><line x1="273.20" y1="1.90" x2="273.20" y2="4.40" stroke-width="1.3"/><line x1="279.27" y1="365.15" x2="279.27" y2="362.65" stroke-width="1.3"/><line x1="279.27" y1="1.90" x2="279.27" y2="4.40" stroke-width="1.3"/><line x1="285.33" y1="365.15" x2="285.33" y2="362.65" stroke-width="1.3"/><line x1="285.33" y1="1.90" x2="285.33" y2="4.40" stroke-width="1.3"/><line x1="291.39" y1="365.15" x2="291.39" y2="361.45" stroke-width="1.4"/><line x1="291.39" y1="1.90" x2="291.39" y2="5.60" stroke-width="1.4"/><line x1="297.45" y1="365.15" x2="297.45" y2="362.65" stroke-width="1.3"/><line x1="297.45" y1="1.90" x2="297.45" y2="4.40" stroke-width="1.3"/><line x1="303.51" y1="365.15" x2="303.51" y2="362.65" stroke-width="1.3"/><line x1="303.51" y1="1.90" x2="303.51" y2="4.40" stroke-width="1.3"/><line x1="309.58" y1="365.15" x2="309.58" y2="362.65" stroke-width="1.3"/><line x1="309.58" y1="1.90" x2="309.58" y2="4.40" stroke-width="1.3"/><line x1="315.64" y1="365.15" x2="315.64" y2="362.65" stroke-width="1.3"/><line x1="315.64" y1="1.90" x2="315.64" y2="4.40" stroke-width="1.3"/><line x1="321.70" y1="365.15" x2="321.70" y2="359.65" stroke-width="1.6"/><line x1="321.70" y1="1.90" x2="321.70" y2="7.40" stroke-width="1.6"/></g>
<rect x="17.25" y="1.90" width="305.65" height="363.25" fill="none" stroke="#202224" stroke-width="1.3"/>
<line x1="322.90" y1="7.90" x2="322.90" y2="359.15" stroke="#4c4f53" stroke-width="1.3"/>
<g font-family="'Liberation Sans', Arial, sans-serif" font-size="10.4" fill="#111" stroke="#111" stroke-width="0.2" text-anchor="middle">
<text transform="translate(18.60 378.1) scale(0.9 1)">8950</text>
<text transform="translate(79.22 378.1) scale(0.9 1)">8960</text>
<text transform="translate(139.84 378.1) scale(0.9 1)">8970</text>
<text transform="translate(200.46 378.1) scale(0.9 1)">8980</text>
<text transform="translate(261.08 378.1) scale(0.9 1)">8990</text>
<text transform="translate(321.70 378.1) scale(0.9 1)">9000</text>
</g>
<g font-family="'Liberation Serif', 'Times New Roman', serif" fill="#111" stroke="#111" stroke-width="0.22">
<text transform="translate(172 392.6) scale(0.93 1)" font-size="12.4" text-anchor="middle">Energy [eV]</text>
<text transform="translate(10 184) rotate(-90) scale(0.875 1)" font-size="13" text-anchor="middle">Intensity [arb. units]</text>
<text x="24" y="35.7" font-size="14.3">Cu Kβ<tspan font-size="8.5" dy="4.9">2,5</tspan><tspan dy="-4.9"> XES</tspan></text>
<text transform="translate(22 83) scale(0.91 1)" font-size="10.4">CuCl</text>
<text transform="translate(21.2 132.6) scale(0.91 1)" font-size="10.4">CuSCN</text>
<text transform="translate(21.75 200.5) scale(0.91 1)" font-size="10.4">Cu<tspan font-size="6.2" dy="2.9">2</tspan><tspan dy="-2.9">S</tspan></text>
<text transform="translate(24.25 263) scale(0.91 1)" font-size="10.4">CuI</text>
<text transform="translate(22.1 327) scale(0.91 1)" font-size="10.4">Cu<tspan font-size="6.2" dy="2.9">2</tspan><tspan dy="-2.9">O</tspan></text>
</g>
</svg>
</body></html>
